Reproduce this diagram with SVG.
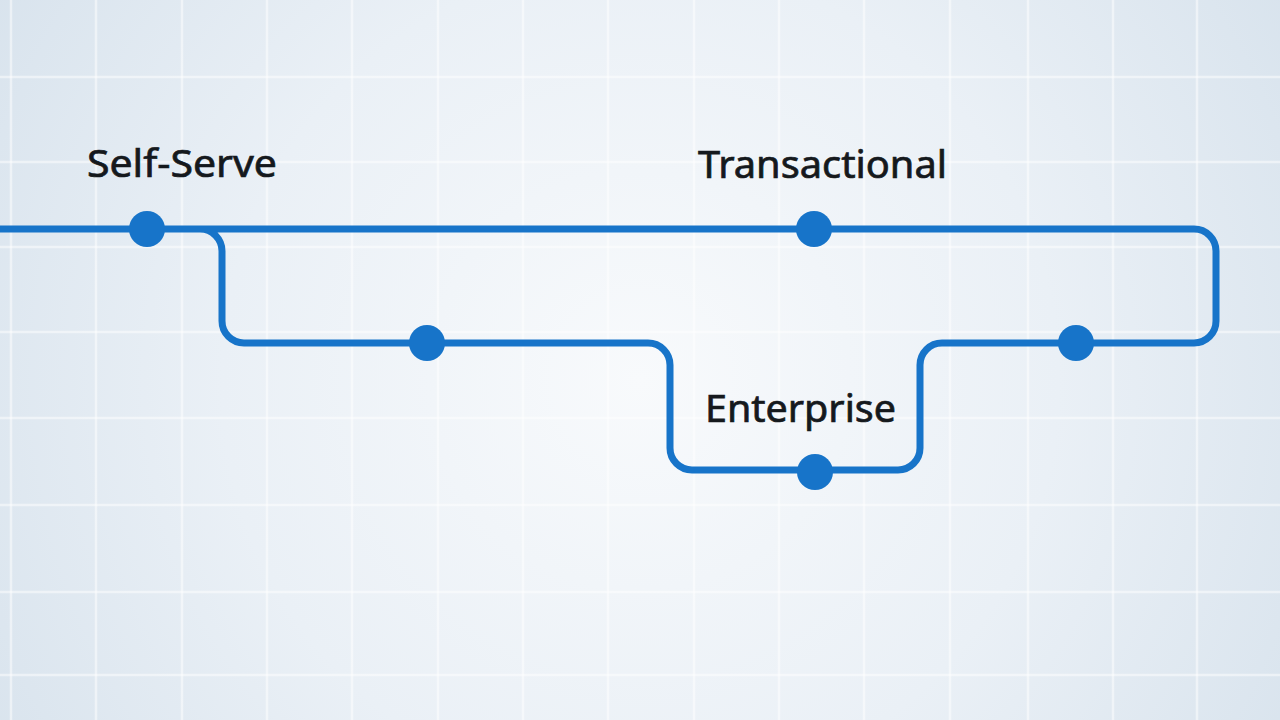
<svg xmlns="http://www.w3.org/2000/svg" width="1280" height="720" viewBox="0 0 1280 720">
  <defs>
    <radialGradient id="bg" cx="640" cy="380" r="760" gradientUnits="userSpaceOnUse">
      <stop offset="0" stop-color="#f8fafc"/>
      <stop offset="0.55" stop-color="#eaf0f6"/>
      <stop offset="1" stop-color="#d8e3ed"/>
    </radialGradient>
  </defs>
  <style>
    .grid line { stroke: #ffffff; stroke-width: 2.5; opacity: 0.5; }
    .route { fill: none; stroke: #1774c9; stroke-width: 7; stroke-linejoin: round; }
    .node circle { fill: #1774c9; }
    .label { font-family: "Noto Sans", "Open Sans", "DejaVu Sans", sans-serif; font-size: 38px; fill: #15191d; stroke: #15191d; stroke-width: 0.7; }
  </style>
  <rect width="1280" height="720" fill="url(#bg)"/>
  <g class="grid">
    <line x1="11" y1="0" x2="11" y2="720"/>
    <line x1="96" y1="0" x2="96" y2="720"/>
    <line x1="182" y1="0" x2="182" y2="720"/>
    <line x1="267" y1="0" x2="267" y2="720"/>
    <line x1="352" y1="0" x2="352" y2="720"/>
    <line x1="438" y1="0" x2="438" y2="720"/>
    <line x1="523" y1="0" x2="523" y2="720"/>
    <line x1="608" y1="0" x2="608" y2="720"/>
    <line x1="694" y1="0" x2="694" y2="720"/>
    <line x1="779" y1="0" x2="779" y2="720"/>
    <line x1="864" y1="0" x2="864" y2="720"/>
    <line x1="950" y1="0" x2="950" y2="720"/>
    <line x1="1028" y1="0" x2="1028" y2="720"/>
    <line x1="1113" y1="0" x2="1113" y2="720"/>
    <line x1="1197" y1="0" x2="1197" y2="720"/>
    <line x1="0" y1="77" x2="1280" y2="77"/>
    <line x1="0" y1="162" x2="1280" y2="162"/>
    <line x1="0" y1="247" x2="1280" y2="247"/>
    <line x1="0" y1="332" x2="1280" y2="332"/>
    <line x1="0" y1="418" x2="1280" y2="418"/>
    <line x1="0" y1="505" x2="1280" y2="505"/>
    <line x1="0" y1="592" x2="1280" y2="592"/>
    <line x1="0" y1="675" x2="1280" y2="675"/>
  </g>
  <g id="connectors">
    <path class="route" d="M0,229 H1194 A22,22 0 0 1 1216,251 V321 A22,22 0 0 1 1194,343 H942 A22,22 0 0 0 920,365 V448 A22,22 0 0 1 898,470 H692 A22,22 0 0 1 670,448 V365 A22,22 0 0 0 648,343 H244 A22,22 0 0 1 222,321 V251 A22,22 0 0 0 200,229"/>
  </g>
  <g id="node-self-serve" class="node">
    <circle cx="147" cy="229" r="18"/>
    <text class="label" x="87" y="177" textLength="190" lengthAdjust="spacingAndGlyphs">Self-Serve</text>
  </g>
  <g id="node-transactional" class="node">
    <circle cx="814" cy="229" r="18"/>
    <text class="label" x="698" y="178" textLength="249" lengthAdjust="spacingAndGlyphs">Transactional</text>
  </g>
  <g id="node-branch-1" class="node">
    <circle cx="427" cy="343" r="18"/>
  </g>
  <g id="node-enterprise" class="node">
    <circle cx="815" cy="472" r="18"/>
    <text class="label" x="705" y="422" textLength="191" lengthAdjust="spacingAndGlyphs">Enterprise</text>
  </g>
  <g id="node-branch-2" class="node">
    <circle cx="1076" cy="343" r="18"/>
  </g>
</svg>
